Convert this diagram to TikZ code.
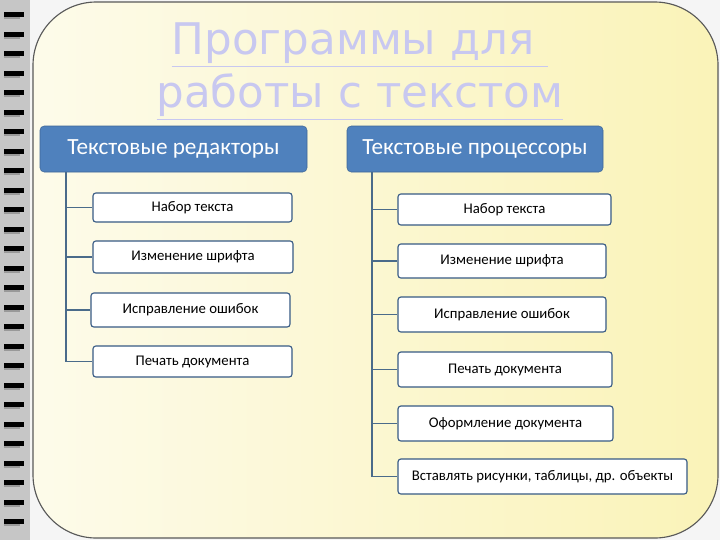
\documentclass[tikz,border=0pt]{standalone}
\usepackage{fontspec}
\setmainfont{Carlito}
\newfontfamily\titlefont{DejaVu Sans}
\usetikzlibrary{positioning,calc}
\definecolor{hdrblue}{HTML}{4F81BD}
\definecolor{linegray}{HTML}{4A6B8A}
\definecolor{titlelav}{HTML}{C8C8F0}
\definecolor{cream}{HTML}{FDFBEA}
\definecolor{paleyel}{HTML}{FAF3B8}
\tikzset{
  hdrbox/.style={draw=hdrblue!80!black, fill=hdrblue, rounded corners=3pt, text=white,
    font=\fontsize{16.5}{19}\selectfont, inner sep=0pt},
  itembox/.style={draw=hdrblue!70!black, fill=white, rounded corners=2pt, line width=0.8pt,
    font=\fontsize{10.5}{12}\selectfont, inner sep=0pt},
  trunk/.style={linegray, line width=1.3pt}
}
\begin{document}
\begin{tikzpicture}[x=0.025cm,y=-0.025cm]
  \useasboundingbox (0,0) rectangle (720,540);
  \fill[gray!8] (0,0) rectangle (720,540);
  \fill[gray!45] (0,0) rectangle (30,540);
  % page
  \shade[left color=cream, right color=paleyel, rounded corners=45pt, draw=gray!70!black, line width=0.8pt]
    (33,2) rectangle (718,538);
  % spiral rings
  \foreach \y in {12,31.5,...,530}{
    \fill[black] (4,\y) rectangle (24,\y+5);
    \fill[gray!80] (4,\y+5) rectangle (20,\y+7);
  }
  % title
  \node[text=titlelav, font=\titlefont\fontsize{31}{35}\selectfont] (title1) at (360,45) {\underline{Программы для\ }};
  \node[text=titlelav, font=\titlefont\fontsize{31}{35}\selectfont] (title2) at (360,97) {\underline{работы с текстом}};
  % headers
  \node[hdrbox, minimum width=267*0.025cm, minimum height=46*0.025cm] (edit) at (173.5,149) {Текстовые редакторы};
  \node[hdrbox, minimum width=256*0.025cm, minimum height=46*0.025cm] (proc) at (475,149) {Текстовые процессоры};
  % left items
  \foreach \n/\xa/\xb/\ya/\yb/\t in {
    e1/93/292/193/222/Набор текста,
    e2/93/293/241/273/Изменение шрифта,
    e3/91/290/293/327/Исправление ошибок,
    e4/93/292/346/377/Печать документа}{
    \node[itembox, minimum width={(\xb-\xa)*0.025cm}, minimum height={(\yb-\ya)*0.025cm}]
      (\n) at ({(\xa+\xb)/2},{(\ya+\yb)/2}) {\t};
    \draw[trunk] (66,{(\ya+\yb)/2}) -- (\n.west);
  }
  \draw[trunk] (edit.south -| 66,0) -- (66,361.5);
  % right items
  \foreach \n/\xa/\xb/\ya/\yb/\t in {
    p1/398/611/194/225/Набор текста,
    p2/398/606/244/278/Изменение шрифта,
    p3/398/606/297/332/Исправление ошибок,
    p4/398/612/352/387/Печать документа,
    p5/398/613/406/441/Оформление документа,
    p6/398/687/459/494/{Вставлять рисунки, таблицы, др. объекты}}{
    \node[itembox, minimum width={(\xb-\xa)*0.025cm}, minimum height={(\yb-\ya)*0.025cm}]
      (\n) at ({(\xa+\xb)/2},{(\ya+\yb)/2}) {\t};
    \draw[trunk] (372,{(\ya+\yb)/2}) -- (\n.west);
  }
  \draw[trunk] (proc.south -| 372,0) -- (372,476.5);
\end{tikzpicture}
\end{document}
